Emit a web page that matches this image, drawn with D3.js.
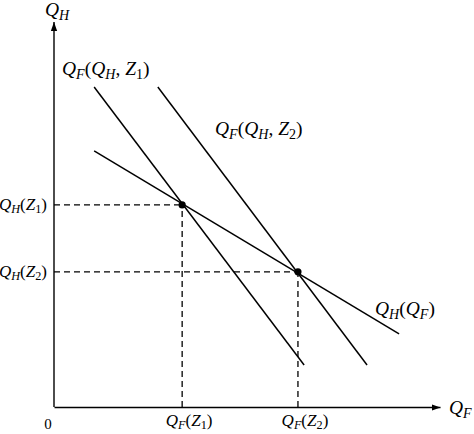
<!DOCTYPE html>
<html lang="en">
<head>
  <meta charset="UTF-8">
  <title>Q_H / Q_F equilibrium</title>
  <style>
    body { margin: 0; background: #fff; }
    text { font-family: "Liberation Serif", "DejaVu Serif", serif; fill: #000; }
  </style>
</head>
<body>
  <svg id="svg" width="474" height="434"></svg>

  <script src="https://d3js.org/d3.v7.min.js"></script>
  <script>
    // curves, in data units (x = Q_F, y = Q_H), as straight segments
    const curveNames = ['QF_Z1', 'QF_Z2', 'QH_QF']
    const curveStart = [[1.04, 8.31], [2.69, 8.31], [1.04, 6.65]]
    const curveEnd = [[6.48, 1.09], [8.11, 1.09], [8.94, 1.90]]

    // equilibrium points
    const eqX = [3.32, 6.32]
    const eqY = [5.25, 3.51]

    // tick labels: [main, subscript, argument, argument subscript]
    const xTickLabels = [['Q', 'F', 'Z', '1'], ['Q', 'F', 'Z', '2']]
    const yTickLabels = [['Q', 'H', 'Z', '1'], ['Q', 'H', 'Z', '2']]

    const margin = { top: 22, right: 34, bottom: 27, left: 54 }
    const width = 474
    const height = 434

    const xscale = d3.scaleLinear()
      .domain([0, 10])
      .range([margin.left, width - margin.right])

    const yscale = d3.scaleLinear()
      .domain([0, 10])
      .range([height - margin.bottom, margin.top])

    const svg = d3.select('#svg')

    // arrow head
    svg.append('defs').append('marker')
      .attr('id', 'arrow')
      .attr('viewBox', '0 0 10 10')
      .attr('refX', 10)
      .attr('refY', 5)
      .attr('markerWidth', 9)
      .attr('markerHeight', 9)
      .attr('markerUnits', 'userSpaceOnUse')
      .attr('orient', 'auto')
      .append('path')
      .attr('d', 'M0,1.5 L10,5 L0,8.5 Z')
      .attr('fill', '#000')

    // axes
    const bottomAxis = d3.axisBottom(xscale).tickValues([]).tickSizeOuter(0)
    const leftAxis = d3.axisLeft(yscale).tickValues([]).tickSizeOuter(0)

    const gx = svg.append('g')
      .attr('transform', `translate(0, ${yscale(0)})`)
      .call(bottomAxis)
    gx.select('.domain')
      .attr('stroke-width', 1.4)
      .attr('marker-end', 'url(#arrow)')

    const gy = svg.append('g')
      .attr('transform', `translate(${xscale(0)}, 0)`)
      .call(leftAxis)
    // draw the y domain bottom-to-top so the arrow sits on top
    gy.select('.domain')
      .attr('d', `M0,${yscale(0)}V${yscale(10)}`)
      .attr('stroke-width', 1.4)
      .attr('marker-end', 'url(#arrow)')

    // dashed guides
    const guides = svg.append('g')
      .attr('stroke', '#000')
      .attr('stroke-width', 1.3)
      .attr('stroke-dasharray', '6,4')
      .attr('fill', 'none')

    eqX.forEach((x, i) => {
      guides.append('line')
        .attr('x1', xscale(0)).attr('y1', yscale(eqY[i]))
        .attr('x2', xscale(x)).attr('y2', yscale(eqY[i]))
      guides.append('line')
        .attr('x1', xscale(x)).attr('y1', yscale(0))
        .attr('x2', xscale(x)).attr('y2', yscale(eqY[i]))
    })

    // curves
    svg.append('g')
      .selectAll('line')
      .data(curveNames)
      .enter()
      .append('line')
      .attr('x1', (d, i) => xscale(curveStart[i][0]))
      .attr('y1', (d, i) => yscale(curveStart[i][1]))
      .attr('x2', (d, i) => xscale(curveEnd[i][0]))
      .attr('y2', (d, i) => yscale(curveEnd[i][1]))
      .attr('stroke', '#000')
      .attr('stroke-width', 1.5)

    // points
    svg.append('g')
      .selectAll('circle')
      .data(eqX)
      .enter()
      .append('circle')
      .attr('cx', d => xscale(d))
      .attr('cy', (d, i) => yscale(eqY[i]))
      .attr('r', 3.6)
      .attr('fill', '#000')

    // math label helper: parts are [text, italic, subscript, back-from-subscript]
    function mathLabel(x, y, size, anchor, parts) {
      const t = svg.append('text')
        .attr('x', x)
        .attr('y', y)
        .attr('font-size', size)
        .attr('text-anchor', anchor)
      parts.forEach(p => {
        const s = t.append('tspan')
          .text(p[0])
          .attr('font-style', p[1] ? 'italic' : 'normal')
        if (p[2]) {
          s.attr('font-size', size * 0.72).attr('dy', size * 0.2)
        } else if (p[3]) {
          s.attr('dy', -size * 0.2)
        }
      })
      return t
    }

    const fs = 19.5
    // axis titles
    mathLabel(45, 16, fs, 'start', [['Q', true], ['H', true, true]])
    mathLabel(449, 414, fs, 'start', [['Q', true], ['F', true, true]])

    // curve labels
    mathLabel(62, 75, fs, 'start', [['Q', true], ['F', true, true], ['(', false, false, true], ['Q', true], ['H', true, true], [', ', false, false, true], ['Z', true], ['1', false, true], [')', false, false, true]])
    mathLabel(215, 135, fs, 'start', [['Q', true], ['F', true, true], ['(', false, false, true], ['Q', true], ['H', true, true], [', ', false, false, true], ['Z', true], ['2', false, true], [')', false, false, true]])
    mathLabel(375, 315, fs, 'start', [['Q', true], ['H', true, true], ['(', false, false, true], ['Q', true], ['F', true, true], [')', false, false, true]])

    // tick labels
    const ts = 17
    eqX.forEach((x, i) => {
      const l = xTickLabels[i]
      mathLabel(xscale(x) + 7, 426, ts, 'middle', [[l[0], true], [l[1], true, true], ['(', false, false, true], [l[2], true], [l[3], false, true], [')', false, false, true]])
    })
    eqY.forEach((y, i) => {
      const l = yTickLabels[i]
      mathLabel(47, yscale(y) + 5, ts, 'end', [[l[0], true], [l[1], true, true], ['(', false, false, true], [l[2], true], [l[3], false, true], [')', false, false, true]])
    })
    svg.append('text')
      .attr('x', 48)
      .attr('y', 429)
      .attr('font-size', 15)
      .attr('text-anchor', 'middle')
      .text('0')
  </script>
</body>
</html>
